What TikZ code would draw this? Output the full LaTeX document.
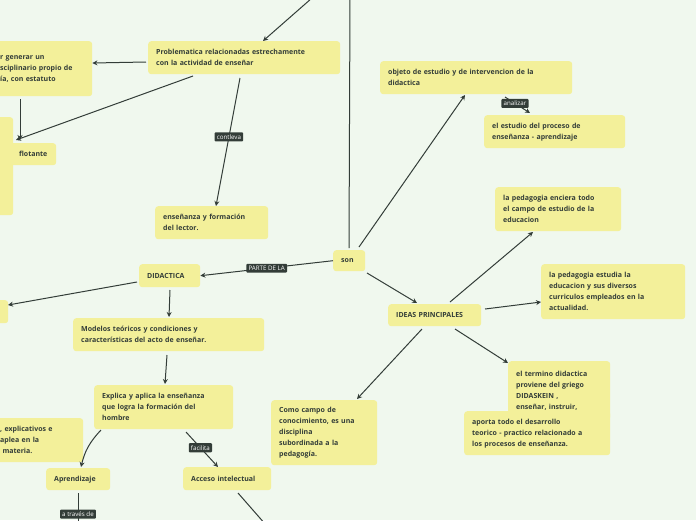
\documentclass[tikz,border=0pt]{standalone}
\usepackage{fontspec}
\setmainfont{Open Sans}
\usetikzlibrary{arrows.meta}
\definecolor{bg}{HTML}{F0F8EE}
\definecolor{bx}{HTML}{F3F09A}
\definecolor{ink}{HTML}{333D38}
\tikzset{
 box/.style={fill=bx, rounded corners=3pt, anchor=north west, align=left, inner xsep=8pt, inner ysep=0pt, font=\fontsize{7}{11}\selectfont\bfseries, text=ink},
 lab/.style={fill=ink, text=white, inner sep=2.2pt, font=\fontsize{6.2}{7}\selectfont, rounded corners=1pt},
 arr/.style={draw=ink, line width=1pt, -{Stealth[length=5pt,width=5pt]}},
 ln/.style={draw=ink, line width=1pt}
}
\newcommand{\bx}[6]{\node[box, minimum width=#3-#1, minimum height=#4-#2, text width=#3-#1-16] (#5) at (#1,#2) {#6};}
\begin{document}
\begin{tikzpicture}[x=1pt,y=-1pt]
\fill[bg] (0,0) rectangle (696,520);
\useasboundingbox (0,0) rectangle (696,520);
\begin{scope}
\clip (0,0) rectangle (696,520);
\node[box, minimum width=150, minimum height=55, text width=150, inner xsep=0pt] (lt) at (-58,41) {\hspace*{58pt}r generar un\\\hspace*{58pt}sciplinario propio de\\\hspace*{58pt}ía, con estatuto\\[8pt]};
\node[box, minimum width=33, minimum height=98] (lb) at (-20,117) {};
\node[box, minimum width=46, minimum height=22, inner xsep=4pt] (flot) at (10,143) {flotante};
\bx{148}{41}{340}{74}{prob}{Problematica relacionadas estrechamente\\con la actividad de enseñar}
\bx{155}{206}{268}{239}{ens}{enseñanza y formación\\del lector.}
\bx{333}{250}{365}{271}{son}{son}
\bx{139}{264}{200}{287}{did}{DIDACTICA}
\node[box, minimum width=28, minimum height=23] (lb2) at (-20,300) {};
\bx{73}{318}{264}{351}{mod}{Modelos teóricos y condiciones y\\características del acto de enseñar.}
\bx{94}{385}{233}{429}{exp}{Explica y aplica la enseñanza\\que logra la formación del\\hombre}
\node[box, minimum width=143, minimum height=44, text width=143, inner xsep=0pt] (lb3) at (-60,418) {\hspace*{60pt}, explicativos e\\\hspace*{60pt}aplea en la\\\hspace*{60pt}\ materia.};
\bx{46}{468}{110}{490}{apr}{Aprendizaje}
\bx{183}{467}{271}{490}{acc}{Acceso intelectual}
\bx{380}{61}{572}{94}{obj}{objeto de estudio y de intervencion de la\\didactica}
\bx{484}{115}{625}{148}{est}{el estudio del proceso de\\enseñanza - aprendizaje}
\bx{495}{187}{621}{231}{enc}{la pedagogia enciera todo\\el campo de estudio de la\\educacion}
\bx{541}{264}{685}{319}{estd}{la pedagogia estudia la\\educacion y sus diversos\\curriculos empleados en la\\actualidad.}
\bx{388}{304}{481}{326}{ideas}{IDEAS PRINCIPALES}
\node[box, minimum width=102, minimum height=59, text width=86, anchor=north west] (ter) at (508,361) {el termino didactica\\proviene del griego\\DIDASKEIN ,\\enseñar, instruir,\\[10pt]};
\bx{464}{411}{610}{455}{apo}{aporta todo el desarrollo\\teorico - practico relacionado a\\los procesos de enseñanza.}
\bx{271}{400}{377}{465}{como}{Como campo de\\conocimiento, es una\\disciplina\\subordinada a la\\pedagogía.}
\coordinate (t1) at (312,-2);
\coordinate (t2) at (350,-2);
\coordinate (b1) at (78,525);
\coordinate (b2) at (266,525);
\draw[arr] (t1) -- (prob.north west -| 263,41);
\draw[ln] (t2) -- (349,248);
\draw[arr] (146,62) -- (lt.east |- 146,63);
\draw[arr] (193,76) -- (16,140);
\draw[arr] (20,99) -- (20,140);
\draw[arr] (240,78) -- node[lab, pos=0.46]{contleva} (ens.north -| 216,205);
\draw[arr] (son.west) -- node[lab, pos=0.5]{PARTE DE LA} (did.east);
\draw[arr] (359,247) -- (465,95);
\draw[arr] (367,273) -- (417,303);
\draw[arr] (137,282) -- (8,305);
\draw[arr] (170,290) -- (169,317);
\draw[arr] (167,355) -- (165,384);
\draw[arr] (101,430) to[bend right=15] (81,467);
\draw[arr] (186,432) -- node[lab, pos=0.45]{facilita} (218,467);
\draw[ln] (78,493) -- node[lab, pos=0.66]{a través de} (b1);
\draw[ln] (238,493) -- (b2);
\draw[arr] (505,97) -- node[lab, pos=0.4]{analizar} (530,113);
\draw[arr] (450,302) -- (533,232);
\draw[arr] (485,309) -- (541,302);
\draw[arr] (455,329) -- (508,363);
\draw[arr] (422,329) -- (357,399);
\end{scope}
\end{tikzpicture}
\end{document}
